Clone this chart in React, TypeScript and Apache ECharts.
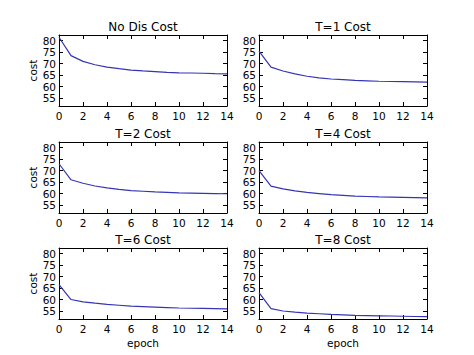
import React, { useEffect, useRef } from "react";
import * as echarts from "echarts";

const epochs = [0, 1, 2, 3, 4, 5, 6, 7, 8, 9, 10, 11, 12, 13, 14];
const titles = ["No Dis Cost", "T=1 Cost", "T=2 Cost", "T=4 Cost", "T=6 Cost", "T=8 Cost"];
const noDis = [81.5, 73.5, 71.0, 69.5, 68.5, 67.8, 67.2, 66.8, 66.5, 66.2, 66.0, 65.9, 65.8, 65.6, 65.5];
const t1 = [75.5, 68.5, 66.8, 65.5, 64.5, 63.8, 63.3, 63.0, 62.7, 62.5, 62.3, 62.2, 62.1, 62.0, 61.9];
const t2 = [73.0, 66.0, 64.5, 63.3, 62.5, 61.8, 61.3, 61.0, 60.7, 60.5, 60.3, 60.2, 60.1, 60.0, 59.9];
const t4 = [70.0, 63.2, 62.0, 61.2, 60.5, 60.0, 59.5, 59.2, 58.9, 58.7, 58.5, 58.4, 58.3, 58.2, 58.1];
const t6 = [66.5, 60.0, 59.0, 58.4, 57.9, 57.5, 57.1, 56.9, 56.7, 56.5, 56.3, 56.2, 56.1, 56.0, 55.9];
const t8 = [63.0, 56.0, 55.0, 54.5, 54.1, 53.8, 53.5, 53.3, 53.1, 53.0, 52.9, 52.8, 52.7, 52.6, 52.5];
const seriesValues = [noDis, t1, t2, t4, t6, t8];
const yTicks = [55, 60, 65, 70, 75, 80];
const xTicks = [0, 2, 4, 6, 8, 10, 12, 14];
const yMin = 51.5;
const yMax = 82.5;

export default function App() {
  const ref = useRef<HTMLDivElement>(null);
  useEffect(() => {
    if (!ref.current) return;
    const chart = echarts.init(ref.current, undefined, { renderer: "svg" });
    const lefts = [59, 259];
    const tops = [35, 142, 248];
    const w = 168;
    const h = 71;
    const font = "DejaVu Sans";
    const fs = 10.5;
    const grids: any[] = [];
    const xAxes: any[] = [];
    const yAxes: any[] = [];
    const series: any[] = [];
    const graphics: any[] = [];
    for (let i = 0; i < 6; i++) {
      const col = i % 2;
      const row = Math.floor(i / 2);
      grids.push({ left: lefts[col], top: tops[row], width: w, height: h, show: false });
      const line = { show: true, onZero: false, lineStyle: { color: "#000", width: 1 } };
      xAxes.push({
        type: "value", gridIndex: i, position: "bottom", min: 0, max: 14, interval: 2,
        axisLine: line,
        axisTick: { show: true, inside: true, length: 4, lineStyle: { color: "#000" }, customValues: xTicks },
        axisLabel: { show: true, fontSize: fs, fontFamily: font, color: "#000", margin: 4, customValues: xTicks },
        splitLine: { show: false },
        name: row === 2 ? "epoch" : "", nameLocation: "middle", nameGap: 18,
        nameTextStyle: { fontSize: fs, fontFamily: font, color: "#000" },
      });
      xAxes.push({
        type: "value", gridIndex: i, position: "top", min: 0, max: 14, interval: 2,
        axisLine: line,
        axisTick: { show: true, inside: true, length: 4, lineStyle: { color: "#000" }, customValues: xTicks },
        axisLabel: { show: false }, splitLine: { show: false },
      });
      yAxes.push({
        type: "value", gridIndex: i, position: "left", min: yMin, max: yMax,
        axisLine: line,
        axisTick: { show: true, inside: true, length: 4, lineStyle: { color: "#000" }, customValues: yTicks },
        axisLabel: { show: true, fontSize: fs, fontFamily: font, color: "#000", margin: 3, customValues: yTicks },
        splitLine: { show: false },
        name: col === 0 ? "cost" : "", nameLocation: "middle", nameGap: 20,
        nameTextStyle: { fontSize: fs, fontFamily: font, color: "#000" },
      });
      yAxes.push({
        type: "value", gridIndex: i, position: "right", min: yMin, max: yMax,
        axisLine: line,
        axisTick: { show: true, inside: true, length: 4, lineStyle: { color: "#000" }, customValues: yTicks },
        axisLabel: { show: false }, splitLine: { show: false },
      });
      series.push({
        type: "line", xAxisIndex: i * 2, yAxisIndex: i * 2,
        data: epochs.map((e, k) => [e, seriesValues[i][k]]),
        symbol: "none", lineStyle: { color: "#3535b5", width: 1.2 },
      });
      graphics.push({
        type: "text", x: lefts[col] + w / 2, y: tops[row] - 2,
        style: { text: titles[i], fontSize: 12, fontWeight: "normal", fontFamily: font, fill: "#000", align: "center", verticalAlign: "bottom" },
      });
    }
    chart.setOption({
      animation: false,
      backgroundColor: "#fff",
      grid: grids,
      xAxis: xAxes,
      yAxis: yAxes,
      series,
      graphic: graphics,
    });
    return () => chart.dispose();
  }, []);
  return <div ref={ref} style={{ position: "fixed", left: 0, top: 0, width: 474, height: 355 }} />;
}
